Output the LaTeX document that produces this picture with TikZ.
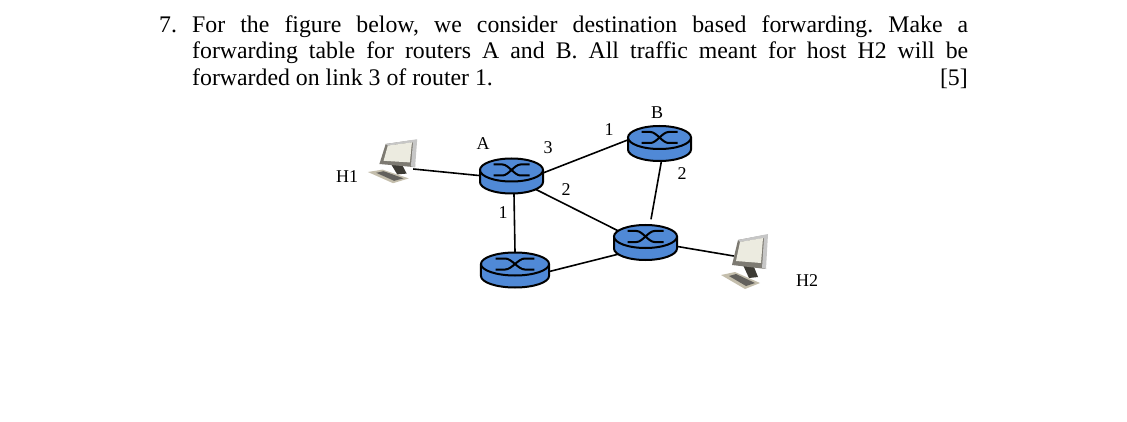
\documentclass[tikz,border=0pt]{standalone}
\usepackage{fontspec}
\setmainfont{Liberation Serif}
\usetikzlibrary{shapes.geometric}
\definecolor{rblue}{RGB}{80,137,214}
\definecolor{screenc}{RGB}{236,235,224}
\definecolor{caseg}{RGB}{125,122,114}
\definecolor{darkg}{RGB}{60,58,52}
\definecolor{keyc}{RGB}{196,190,172}
\tikzset{
  x=1pt,y=-1pt,
  txt/.style={inner sep=0pt,anchor=base west,font=\fontsize{23.8}{26}\selectfont},
  lbl/.style={inner sep=0pt,font=\fontsize{18}{18}\selectfont},
  router/.style={ellipse,minimum width=65pt,minimum height=35pt,inner sep=0pt},
  hostbox/.style={rectangle,minimum width=46pt,minimum height=50pt,inner sep=0pt},
  link/.style={line width=1.6pt,black},
  pics/routerpic/.style={code={
    \fill[rblue] (-31.5,-5.5) -- (-31.5,6.5) arc[start angle=180,end angle=0,x radius=31.5,y radius=11.5] -- (31.5,-5.5) -- cycle;
    \draw[line width=2pt] (-31.5,-5.5) -- (-31.5,6.5) arc[start angle=180,end angle=0,x radius=31.5,y radius=11.5] -- (31.5,-5.5);
    \draw[line width=2pt,fill=rblue] (0,-5.5) ellipse[x radius=31.5,y radius=11.5];
    \draw[line width=2pt] (-18,0) -- (-9,0) .. controls (-3,0) and (3,-11) .. (9,-11) -- (18,-11);
    \draw[line width=2pt] (-18,-11) -- (-9,-11) .. controls (-3,-11) and (3,0) .. (9,0) -- (18,0);
  }},
  pics/hostpic/.style={code={
    \fill[keyc] (-23,10) -- (-9,7) -- (16,18) -- (1,24) -- cycle;
    \fill[darkg!80] (-15,11) -- (-8,9) -- (11,18) -- (2,21) -- cycle;
    \fill[darkg] (-1,0) -- (10,2) -- (14,12) -- (5,13) -- cycle;
    \fill[caseg] (-6,-25) -- (21,-30) -- (22,4) -- (-12,0) -- cycle;
    \fill[gray!45] (-6,-25) -- (24,-31) -- (22,4) -- (18,3) -- (20,-27) -- (-4,-23) -- cycle;
    \fill[screenc] (-4,-23) -- (19,-27) -- (17,-2) -- (-8,-4) -- cycle;
  }}
}
\begin{document}
\begin{tikzpicture}
\useasboundingbox (0,0) rectangle (1127,422);
\frenchspacing
% question text
\node[txt] (num) at (159,33) {7.};
\node[txt] (l1) at (192,33) {\makebox[776pt][s]{For the figure below, we consider destination based forwarding. Make a}};
\node[txt] (l2) at (192,59) {\makebox[776pt][s]{forwarding table for routers A and B. All traffic meant for host H2 will be}};
\node[txt] (l3) at (192,86) {forwarded on link 3 of router 1.};
\node[txt,anchor=base east] (five) at (968,86) {[5]};
% anchors
\node[router] (A) at (511.5,175.5) {};
\node[router] (B) at (659.5,143) {};
\node[router,minimum width=70pt] (C) at (515,269.5) {};
\node[router] (D) at (645.5,242) {};
\node[hostbox] (H1) at (392,164) {};
\node[hostbox] (H2) at (744,265) {};
% links
\draw[link] ([xshift=-2pt,yshift=-5pt]H1.east) -- (A.west);
\draw[link] (A.5) -- (B.175);
\draw[link] (A.-30) -- (D.158);
\draw[link] (A.-82) -- (C.90);
\draw[link] (C.-3) -- (D.205);
\draw[link] ([xshift=2pt]B.-90) -- ([xshift=5.5pt,yshift=5pt]D.north);
\draw[link] (D.-8) -- ([xshift=13pt,yshift=9pt]H2.west);
% icons
\path (A) pic {routerpic};
\path (B) pic {routerpic};
\path (C) pic[xscale=1.08] {routerpic};
\path (D) pic {routerpic};
\path (H1) pic[xscale=1.05,yscale=0.8] {hostpic};
\path (H2) pic {hostpic};
% labels
\node[lbl] (tH1) at (347,177) {H1};
\node[lbl] (tH2) at (807,281) {H2};
\node[lbl] (tA) at (483,144) {A};
\node[lbl] (tB) at (657,113) {B};
\node[lbl] (a3) at (548,148) {3};
\node[lbl] (a2) at (566,190) {2};
\node[lbl] (a1) at (503,213) {1};
\node[lbl] (b1) at (609,130) {1};
\node[lbl] (b2) at (682,174) {2};
\end{tikzpicture}
\end{document}
